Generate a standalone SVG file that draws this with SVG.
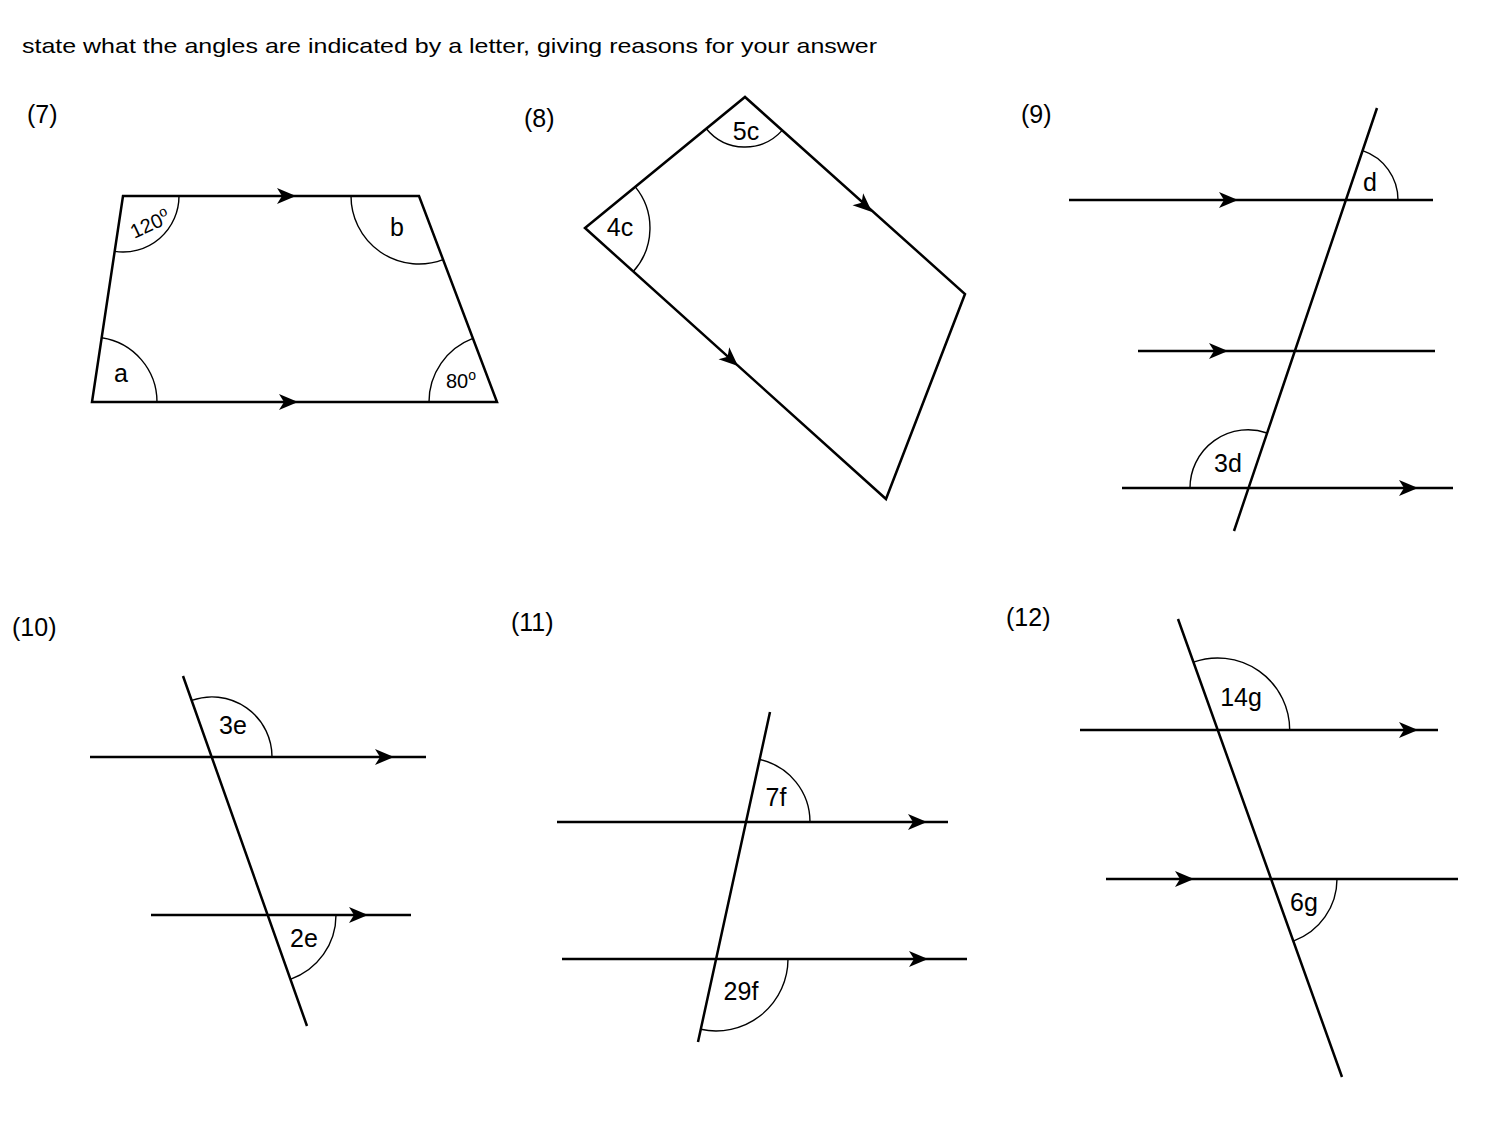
<svg xmlns="http://www.w3.org/2000/svg" width="1500" height="1125" viewBox="0 0 1500 1125">
<style>
.ln{stroke:#000;stroke-width:2.5;fill:none;stroke-linejoin:miter}
.arc{stroke:#000;stroke-width:1.4;fill:none}
text{font-family:"Liberation Sans",Arial,sans-serif;fill:#000}
.lb{font-size:25px;text-anchor:middle}
.num{font-size:25px}
</style>
<defs><path id="ar" d="M0,0 L-19,-8 L-14,0 L-19,8 Z" fill="#000"/></defs>
<rect width="1500" height="1125" fill="#fff"/>
<text x="22" y="53" font-size="21" textLength="855" lengthAdjust="spacingAndGlyphs">state what the angles are indicated by a letter, giving reasons for your answer</text>
<g id="fig7">
<text class="num" x="27" y="123">(7)</text>
<path class="ln" d="M123,196 L419,196 L497,402 L92,402 Z"/>
<use href="#ar" x="296" y="196"/><use href="#ar" x="298" y="402"/>
<path class="arc" d="M114.7,251.4 A56,56 0 0 0 179,196"/>
<path class="arc" d="M351,196 A68,68 0 0 0 443.1,259.6"/>
<path class="arc" d="M101.7,337.7 A65,65 0 0 1 157,402"/>
<path class="arc" d="M429,402 A68,68 0 0 1 472.9,338.4"/>
<text x="150" y="231" font-size="20" text-anchor="middle" transform="rotate(-25 150 224)">120<tspan font-size="14" dy="-8">o</tspan></text>
<text class="lb" x="397" y="236">b</text>
<text class="lb" x="121" y="382">a</text>
<text x="446" y="388" font-size="20">80<tspan font-size="14" dy="-8">o</tspan></text>
</g>
<g id="fig8">
<text class="num" x="524" y="127">(8)</text>
<path class="ln" d="M585,228 L745,97 L965,294 L886,499 Z"/>
<use href="#ar" transform="translate(872,212) rotate(41.8)"/>
<use href="#ar" transform="translate(738,366) rotate(42)"/>
<path class="arc" d="M706.3,128.7 A50,50 0 0 0 782.2,130.4"/>
<path class="arc" d="M635.3,186.9 A65,65 0 0 1 633.3,271.5"/>
<text class="lb" x="746" y="140">5c</text>
<text class="lb" x="620" y="236">4c</text>
</g>
<g id="fig9">
<text class="num" x="1021" y="123">(9)</text>
<path class="ln" d="M1377,108 L1234,531 M1069,200 H1433 M1138,351 H1435 M1122,488 H1453"/>
<use href="#ar" x="1238" y="200"/><use href="#ar" x="1228" y="351"/><use href="#ar" x="1418" y="488"/>
<path class="arc" d="M1398,200 A52,52 0 0 0 1362.6,150.7"/>
<path class="arc" d="M1190,488 A58,58 0 0 1 1267,433"/>
<text class="lb" x="1370" y="191">d</text>
<text class="lb" x="1228" y="472">3d</text>
</g>
<g id="fig10">
<text class="num" x="12" y="636">(10)</text>
<path class="ln" d="M183,676 L307,1026 M90,757 H426 M151,915 H411"/>
<use href="#ar" x="394" y="757"/><use href="#ar" x="368" y="915"/>
<path class="arc" d="M272,757 A60,60 0 0 0 191.7,700.4"/>
<path class="arc" d="M336,915 A68,68 0 0 1 290.3,979.3"/>
<text class="lb" x="233" y="734">3e</text>
<text class="lb" x="304" y="947">2e</text>
</g>
<g id="fig11">
<text class="num" x="511" y="631">(11)</text>
<path class="ln" d="M770,712 L698,1042 M557,822 H948 M562,959 H967"/>
<use href="#ar" x="927" y="822"/><use href="#ar" x="928" y="959"/>
<path class="arc" d="M810,822 A64,64 0 0 0 759.6,759.5"/>
<path class="arc" d="M788,959 A72,72 0 0 1 700.8,1029.3"/>
<text class="lb" x="776" y="806">7f</text>
<text class="lb" x="741" y="1000">29f</text>
</g>
<g id="fig12">
<text class="num" x="1006" y="626">(12)</text>
<path class="ln" d="M1178,619 L1342,1077 M1080,730 H1438 M1106,879 H1458"/>
<use href="#ar" x="1418" y="730"/><use href="#ar" x="1194" y="879"/>
<path class="arc" d="M1193.4,662.2 A72,72 0 0 1 1289.7,730"/>
<path class="arc" d="M1337,879 A66,66 0 0 1 1293.3,941.1"/>
<text class="lb" x="1241" y="706">14g</text>
<text class="lb" x="1304" y="911">6g</text>
</g>
</svg>
